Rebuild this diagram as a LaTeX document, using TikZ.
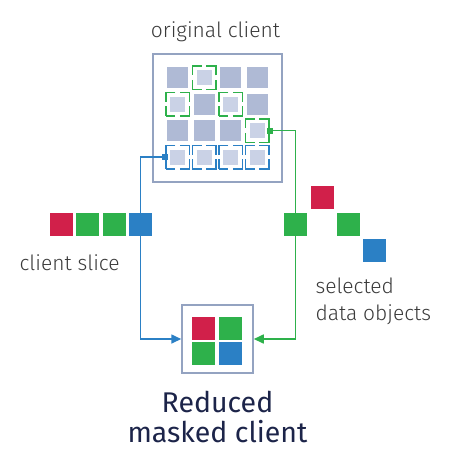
\documentclass[tikz,border=0pt]{standalone}
\usepackage{fontspec}
\setmainfont{Fira Sans}
\newfontfamily\lightfont{Fira Sans Light}
\usetikzlibrary{arrows.meta}
\definecolor{clred}{HTML}{D1204A}
\definecolor{clgreen}{HTML}{2EB14B}
\definecolor{clblue}{HTML}{2B80C5}
\definecolor{framegray}{HTML}{94A3C1}
\definecolor{cellgray}{HTML}{AFBAD5}
\definecolor{celllight}{HTML}{CAD2E6}
\definecolor{lblgray}{HTML}{3A3A3A}
\definecolor{titlenavy}{HTML}{1C2449}

\begin{document}
\begin{tikzpicture}[x=1pt,y=-1pt,
  box/.style={draw=framegray, line width=1.5pt, inner sep=0pt},
  cell/.style={fill=cellgray, minimum size=21pt, inner sep=0pt},
  pickframe/.style={draw=#1, line width=1.5pt, dash pattern=on 9.5pt off 4.5pt on 9.5pt off 0pt, minimum size=23.5pt, inner sep=0pt},
  pickin/.style={fill=celllight, minimum size=15pt, inner sep=0pt},
  obj/.style={fill=#1, minimum size=23pt, inner sep=0pt},
  joint/.style={fill=#1, minimum size=6pt, inner sep=0pt},
  link/.style={draw=#1, line width=1.6pt, -{Triangle[length=10pt,width=9pt]}},
  lbltext/.style={text=lblgray, font=\lightfont\fontsize{21}{27}\selectfont}]
\useasboundingbox (0,0) rectangle (474,467);

% original client
\node[lbltext, anchor=base] (origtxt) at (215.5,37) {original client};
\node[box, minimum width=129pt, minimum height=128pt] (orig) at (217.5,118) {};
\node[cell] (c11) at (177.5,77.5) {};
\node[pickin] (i12) at (204,77.5) {};
\node[pickframe=clgreen] (f12) at (204,77.5) {};
\node[cell] (c13) at (230.5,77.5) {};
\node[cell] (c14) at (257,77.5) {};
\node[pickin] (i21) at (177.5,104) {};
\node[pickframe=clgreen] (f21) at (177.5,104) {};
\node[cell] (c22) at (204,104) {};
\node[pickin] (i23) at (230.5,104) {};
\node[pickframe=clgreen] (f23) at (230.5,104) {};
\node[cell] (c24) at (257,104) {};
\node[cell] (c31) at (177.5,130.5) {};
\node[cell] (c32) at (204,130.5) {};
\node[cell] (c33) at (230.5,130.5) {};
\node[pickin] (i34) at (257,130.5) {};
\node[pickframe=clgreen] (f34) at (257,130.5) {};
\node[pickin] (i41) at (177.5,157) {};
\node[pickframe=clblue] (f41) at (177.5,157) {};
\node[pickin] (i42) at (204,157) {};
\node[pickframe=clblue] (f42) at (204,157) {};
\node[pickin] (i43) at (230.5,157) {};
\node[pickframe=clblue] (f43) at (230.5,157) {};
\node[pickin] (i44) at (257,157) {};
\node[pickframe=clblue] (f44) at (257,157) {};

% client slice
\node[obj=clred] (s1) at (61.5,224.5) {};
\node[obj=clgreen] (s2) at (87.5,224.5) {};
\node[obj=clgreen] (s3) at (114,224.5) {};
\node[obj=clblue] (s4) at (140.5,224.5) {};
\node[lbltext, anchor=base west] (slicetxt) at (16,270) {client slice};

% selected data objects
\node[obj=clred] (o1) at (322,197) {};
\node[obj=clgreen] (o2) at (295.5,224) {};
\node[obj=clgreen] (o3) at (348.5,224) {};
\node[obj=clblue] (o4) at (374.5,250) {};
\node[lbltext, anchor=base west, align=left] (seltxt) at (312,320) {selected\\data objects};

% reduced masked client
\node[box, minimum width=71pt, minimum height=68pt] (mask) at (217.5,339) {};
\node[obj=clred] (m1) at (203.5,328) {};
\node[obj=clgreen] (m2) at (230,328) {};
\node[obj=clgreen] (m3) at (203.5,353.5) {};
\node[obj=clblue] (m4) at (230,353.5) {};
\node[text=titlenavy, font=\fontsize{28.5}{30}\selectfont, anchor=base, align=center] (masktxt) at (217.5,442) {Reduced\\masked client};

% connectors
\draw[link=clblue] (f41.west) -| (s4.center) |- (mask.west);
\draw[link=clgreen] (f34.east) -| (o2.center) |- (mask.east);
\node[joint=clblue] (j1) at (f41.west) {};
\node[joint=clgreen] (j2) at (f34.east) {};
\end{tikzpicture}
\end{document}
